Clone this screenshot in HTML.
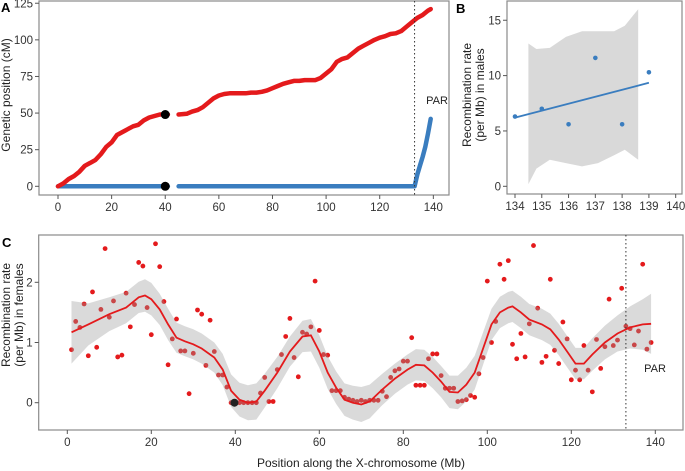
<!DOCTYPE html>
<html><head><meta charset="utf-8"><style>
html,body{margin:0;padding:0;background:#fff;}
svg{display:block;font-family:"Liberation Sans",Arial,sans-serif;}
</style></head><body>
<svg id="fig" width="685" height="471" viewBox="0 0 685 471" xmlns="http://www.w3.org/2000/svg">
<g id="pa"></g>
<g id="pb"></g>
<g id="pc"></g>
</svg>
<script>
// ---- Panel A data ----
const aFemaleMb = [0,2,4,6,8,10,12,14,16,18,20,22,24,26,28,30,32,34,36,38,40,41,null,45,48,50,52,54,56,58,60,62,64,66,68,70,72,74,76,78,80,82,84,86,88,90,92,94,96,98,100,102,104,106,108,110,112,114,116,118,120,122,124,126,128,130,132,134,136,138,139];
const aFemaleCM = [0,2,5,7,10,14,16,18,22,27,30,35,37,39,41,42,45,47,48,49,49,49,null,49,49.5,51,52,54,57,60,62,63,63.5,63.5,63.5,63.5,64,64,64.5,65.5,67,68.5,70,71,72,72,72.5,72.5,72.5,74,77,80,85,87,88,91,94,96,98,100,101.5,102.5,104,104.5,106,109,112,115,117,120,121];
const aMaleMb = [0,41,null,45,133,134,135,136,137,138,139];
const aMaleCM = [0,0,null,0,0,8,14,20,27,36,46];
const aXTicks = [0,20,40,60,80,100,120,140];
const aYTicks = [0,25,50,75,100,125];
// ---- Panel B data ----
const bMb = [134,135,136,137,138,139];
const bRate = [6.3,7.0,5.6,11.6,5.6,10.3];
const bFitX = [134,139];
const bFitY = [6.2,9.35];
const bBandX = [134.5,134.8,135.3,135.9,136.5,137.1,137.7,138.1,138.6];
const bBandHi = [12.9,12.4,12.5,13.5,14.0,14.0,14.0,14.5,16.0];
const bBandLo = [0.2,1.6,2.4,2.1,1.8,2.1,2.8,3.3,2.4];
const bXTicks = [134,135,136,137,138,139,140];
const bYTicks = [0,5,10,15];
// ---- Panel C data ----
const cMb = [1,2,3,4,5,6,7,8,9,10,11,12,13,14,15,16,17,18,19,20,21,22,23,24,25,26,27,28,29,30,31,32,33,34,35,36,37,38,39,41,42,43,44,45,46,47,48,49,50,51,52,53,54,55,56,57,58,59,60,61,62,63,64,65,66,67,68,69,70,71,72,73,74,75,76,77,78,79,80,81,82,83,84,85,86,87,88,89,90,91,92,93,94,95,96,97,98,99,100,101,102,103,104,105,106,107,108,109,110,111,112,113,114,115,116,117,118,119,120,121,122,123,124,125,126,127,128,129,130,131,132,133,134,135,136,137,138,139];
const cRate = [0.88,1.35,1.25,1.64,0.78,1.84,0.92,1.55,2.56,1.42,1.69,0.76,0.79,1.82,1.26,1.63,2.33,2.27,1.58,1.13,2.64,2.26,1.68,0.63,1.06,1.39,0.86,0.86,0.15,0.82,1.54,1.47,0.62,1.37,0.85,0.46,0.46,0.26,0,0,0,0,0,0,0.16,0.42,0.02,0.02,0.55,0.8,1.1,1.4,0.75,0.43,1.17,1.14,1.26,2.02,1.2,0.8,0.79,0.2,0.2,0.2,0.09,0.06,0.04,0.02,0.04,0.02,0.04,0.04,0.04,0.19,0.1,0.42,0.53,0.56,0.69,0.69,1.08,0.29,0.29,0.29,0.73,0.81,0.81,0.45,0.24,0.24,0.24,0.02,0.03,0.05,0.12,0.09,0.48,0.75,2.02,1.0,1.35,2.3,2.05,2.36,0.97,0.73,1.15,0.76,1.31,2.61,1.57,0.67,0.77,2.05,0.87,0.65,1.34,1.06,0.38,0.54,0.38,0.95,0.54,0.18,1.05,0.57,0.93,1.72,0.95,1.04,1.9,1.27,1.23,0.96,1.19,2.3,0.89,1.0];
const cFitX = [1,5,10,14,17,18.5,20,22,24,26,28,30,32,35,37,39,41,43,45,47,50,53,56,58,60,62,64,66,68,70,72,75,78,81,83,85,87,89,91,93,95,97,99,101,103,105,106,108,110,113,115,117,119,121,123,125,128,131,134,137,139];
const cFitY = [1.17,1.3,1.47,1.58,1.75,1.78,1.72,1.55,1.3,1.08,1.02,0.97,0.9,0.75,0.55,0.2,0.05,0.0,0.02,0.2,0.5,0.85,1.1,1.12,0.85,0.5,0.25,0.05,0.0,-0.03,0.02,0.22,0.4,0.55,0.63,0.62,0.5,0.35,0.18,0.17,0.3,0.5,0.9,1.3,1.5,1.58,1.6,1.5,1.38,1.3,1.22,1.05,0.85,0.65,0.65,0.8,1.0,1.15,1.25,1.3,1.31];
const cFitSE = [0.52,0.35,0.28,0.26,0.26,0.27,0.27,0.26,0.26,0.25,0.25,0.25,0.25,0.25,0.26,0.27,0.28,0.29,0.3,0.28,0.26,0.25,0.26,0.27,0.27,0.27,0.27,0.27,0.28,0.29,0.28,0.26,0.25,0.25,0.26,0.26,0.26,0.26,0.27,0.28,0.28,0.28,0.27,0.26,0.26,0.26,0.26,0.26,0.26,0.26,0.26,0.26,0.26,0.26,0.26,0.27,0.28,0.3,0.35,0.42,0.5];
const cXTicks = [0,20,40,60,80,100,120,140];
const cYTicks = [0,1,2];

const NS='http://www.w3.org/2000/svg';
function mk(parent,tag,attrs,text){const e=document.createElementNS(NS,tag);for(const k in attrs)e.setAttribute(k,attrs[k]);if(text!==undefined)e.textContent=text;parent.appendChild(e);return e;}

// Panel A scales
const ax=v=>58+v*2.681, ay=v=>186.3-v*1.4645;
// Panel B scales
const bx=v=>515+(v-134)*26.78, by=v=>186.3-v*11.07;
// Panel C scales
const cx=v=>67.3+v*4.2, cy=v=>402.7-v*60.2;

function axes(g,L,T,R,B,xt,yt,fx,fy,fmt){
  const box=mk(g,'rect',{x:L,y:T,width:R-L,height:B-T,fill:'none',stroke:'#8a8a8a','stroke-width':1.2});
  
  
  xt.forEach(t=>{
    const l=mk(g,'line',{x1:fx(t),x2:fx(t),y1:B,y2:B+4,stroke:'#555'});
    
    
    const tx=mk(g,'text',{x:fx(t),y:B+16,'font-size':11.5,fill:'#333','text-anchor':'middle'},String(t));
    
    
  });
  yt.forEach(t=>{
    const l=mk(g,'line',{x1:L-4,x2:L,y1:fy(t),y2:fy(t),stroke:'#555'});
    
    
    const tx=mk(g,'text',{x:L-6,y:fy(t)+4,'font-size':11.5,fill:'#333','text-anchor':'end'},String(t));
    
    
  });
}

// ---- Panel A ----
const pa=document.getElementById('pa');
axes(pa,39,1,449,195,aXTicks,aYTicks,ax,ay);
function series(g,xs,ys,fx,fy,col,name){
  let d='';let pen=false;
  xs.forEach((x,i)=>{if(x===null){pen=false;return;}d+=(pen?'L':'M')+fx(x).toFixed(1)+' '+fy(ys[i]).toFixed(1);pen=true;});
  const p=mk(g,'path',{d:d,fill:'none',stroke:col,'stroke-width':4.5,'stroke-linecap':'round','stroke-linejoin':'round'});
  
  
}
series(pa,aMaleMb,aMaleCM,ax,ay,'#3a7dbf','male-map-series');
series(pa,aFemaleMb,aFemaleCM,ax,ay,'#e41a1c','female-map-series');
const dl=mk(pa,'line',{x1:ax(133),x2:ax(133),y1:1,y2:195,stroke:'#333','stroke-dasharray':'1.5,2.5'});


[[40,49],[40,0]].forEach(p=>{const c=mk(pa,'circle',{cx:ax(p[0]),cy:ay(p[1]),r:4.5,fill:'#000'});
  
  });
const parA=mk(pa,'text',{x:437,y:104,'font-size':11,fill:'#222','text-anchor':'middle'},'PAR');


const ayt=mk(pa,'text',{x:0,y:0,'font-size':12,fill:'#222','text-anchor':'middle',transform:'translate(10,95) rotate(-90)'},'Genetic position (cM)');


const la=mk(pa,'text',{x:1,y:12,'font-size':13,'font-weight':'bold',fill:'#000'},'A');



// ---- Panel B ----
const pb=document.getElementById('pb');
let bd='';
bBandX.forEach((x,i)=>{bd+=(i?'L':'M')+bx(x).toFixed(1)+' '+by(bBandHi[i]).toFixed(1);});
for(let i=bBandX.length-1;i>=0;i--)bd+='L'+bx(bBandX[i]).toFixed(1)+' '+by(bBandLo[i]).toFixed(1);
const bband=mk(pb,'path',{d:bd+'Z',fill:'#d9d9d9'});


axes(pb,507,1,682,194,bXTicks,bYTicks,bx,by);
const bl=mk(pb,'line',{x1:bx(bFitX[0]),y1:by(bFitY[0]),x2:bx(bFitX[1]),y2:by(bFitY[1]),stroke:'#3a7dbf','stroke-width':1.8});


bMb.forEach((x,i)=>{const c=mk(pb,'circle',{cx:bx(x),cy:by(bRate[i]),r:2.3,fill:'#3a7dbf'});
  
  });
const byt=mk(pb,'text',{x:0,y:0,'font-size':12,fill:'#222','text-anchor':'middle',transform:'translate(471,95) rotate(-90)'});


mk(byt,'tspan',{x:0,dy:0},'Recombination rate');
mk(byt,'tspan',{x:0,dy:13},'(per Mb) in males');
const lb=mk(pb,'text',{x:456,y:13,'font-size':13,'font-weight':'bold',fill:'#000'},'B');



// ---- Panel C ----
const pc=document.getElementById('pc');
axes(pc,38.7,235,683,430,cXTicks,cYTicks,cx,cy);
cMb.forEach((x,i)=>{const c=mk(pc,'circle',{cx:cx(x),cy:cy(cRate[i]),r:2.4,fill:'#e41a1c'});
  
  });
let cd='';
cFitX.forEach((x,i)=>{cd+=(i?'L':'M')+cx(x).toFixed(1)+' '+cy(cFitY[i]+cFitSE[i]).toFixed(1);});
for(let i=cFitX.length-1;i>=0;i--)cd+='L'+cx(cFitX[i]).toFixed(1)+' '+cy(cFitY[i]-cFitSE[i]).toFixed(1);
const cband=mk(pc,'path',{d:cd+'Z',fill:'#999','fill-opacity':0.36});


let cl='';
cFitX.forEach((x,i)=>{cl+=(i?'L':'M')+cx(x).toFixed(1)+' '+cy(cFitY[i]).toFixed(1);});
const cline=mk(pc,'path',{d:cl,fill:'none',stroke:'#e41a1c','stroke-width':1.8});


const cc=mk(pc,'circle',{cx:cx(39.8),cy:cy(0),r:4,fill:'#222'});


const dlc=mk(pc,'line',{x1:cx(133),x2:cx(133),y1:235,y2:430,stroke:'#333','stroke-dasharray':'1.5,2.5'});


const parC=mk(pc,'text',{x:655,y:372,'font-size':11,fill:'#222','text-anchor':'middle'},'PAR');


const cyt=mk(pc,'text',{x:0,y:0,'font-size':12,fill:'#222','text-anchor':'middle',transform:'translate(10,315) rotate(-90)'});


mk(cyt,'tspan',{x:0,dy:0},'Recombination rate');
mk(cyt,'tspan',{x:0,dy:13},'(per Mb) in females');
const cxt=mk(pc,'text',{x:361,y:467,'font-size':12,fill:'#222','text-anchor':'middle'},'Position along the X-chromosome (Mb)');


const lc=mk(pc,'text',{x:2,y:247,'font-size':13,'font-weight':'bold',fill:'#000'},'C');


</script>
</body></html>
